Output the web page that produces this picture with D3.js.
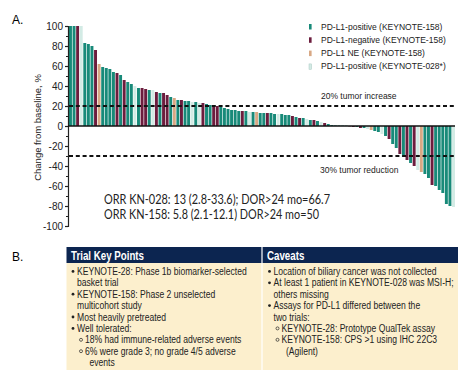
<html>
  <head>
    <meta charset="utf-8">
    <script src="https://cdn.jsdelivr.net/npm/d3@7"></script>
    <style>
      body { margin: 0; background: #fff; }
    </style>
  </head>
  <body>
    <script>
        // best percentage change from baseline, one entry per patient (sorted)
        var values = [100, 100, 100, 100, 83, 82, 80, 76, 62, 59, 58, 57, 54, 53, 51, 46, 44, 42, 40, 38,
                      38, 37, 36, 36, 34, 33, 33, 31, 29, 28, 26, 26, 25, 25, 24, 24, 23, 23, 22, 21,
                      21, 20, 19, 18, 17, 16, 16, 15, 15, 15, 14, 14, 14, 13, 13, 13, 13, 12, 12, 12,
                      11, 11, 10, 9, 8, 8, 7, 6, 6, 5, 4, 3, 2, 1, 0.6, 0.5, 0.4, 0.3, -0.4, -1,
                      -1, -2, -2, -3, -4, -5, -6, -8, -10, -13, -18, -22, -28, -31, -34, -37, -40, -44, -46, -48,
                      -52, -59, -60, -64, -67, -78, -80, -81];
        // cohort of each bar: P = PD-L1+ KN-158, N = PD-L1- KN-158, E = PD-L1 NE KN-158, K = PD-L1+ KN-028
        var cohorts = ["P", "P", "N", "K", "P", "P", "P", "N", "E", "P", "P", "P", "P", "N", "P", "N", "P", "P", "K", "P",
                       "N", "N", "P", "K", "N", "P", "N", "N", "P", "E", "P", "N", "P", "P", "K", "P", "K", "N", "P", "P",
                       "N", "N", "P", "P", "P", "P", "P", "P", "N", "P", "K", "P", "E", "P", "P", "N", "P", "P", "K", "P",
                       "P", "P", "N", "P", "N", "P", "K", "P", "N", "P", "K", "N", "P", "P", "P", "P", "P", "P", "N", "N",
                       "P", "N", "P", "K", "E", "P", "P", "K", "P", "N", "P", "P", "N", "P", "N", "P", "N", "K", "E", "P",
                       "P", "N", "P", "P", "P", "P", "P", "K"];
        var legendKeys = ["P", "N", "E", "K"];
        var legendLabels = ["PD-L1-positive (KEYNOTE-158)", "PD-L1-negative (KEYNOTE-158)",
                            "PD-L1 NE (KEYNOTE-158)", "PD-L1-positive (KEYNOTE-028*)"];
        var yTicks = [100, 80, 60, 40, 20, 0, -20, -40, -60, -80, -100];
        var refLines = [20, -30];
        var orrLines = ["ORR KN-028: 13 (2.8-33.6); DOR>24 mo=66.7",
                        "ORR KN-158: 5.8 (2.1-12.1) DOR>24 mo=50"];
        var leftPoints = [
            {t: "KEYNOTE-28: Phase 1b biomarker-selected", lvl: 1},
            {t: "basket trial", lvl: 0},
            {t: "KEYNOTE-158: Phase 2 unselected", lvl: 1},
            {t: "multicohort study", lvl: 0},
            {t: "Most heavily pretreated", lvl: 1},
            {t: "Well tolerated:", lvl: 1},
            {t: "18% had immune-related adverse events", lvl: 2},
            {t: "6% were grade 3; no grade 4/5 adverse", lvl: 2},
            {t: "events", lvl: 3}
        ];
        var rightPoints = [
            {t: "Location of biliary cancer was not collected", lvl: 1},
            {t: "At least 1 patient in KEYNOTE-028 was MSI-H;", lvl: 1},
            {t: "others missing", lvl: 0},
            {t: "Assays for PD-L1 differed between the", lvl: 1},
            {t: "two trials:", lvl: 0},
            {t: "KEYNOTE-28: Prototype QualTek assay", lvl: 2},
            {t: "KEYNOTE-158: CPS >1 using IHC 22C3", lvl: 2},
            {t: "(Agilent)", lvl: 3}
        ];

        var width = 474, height = 387;

        var color = d3.scaleOrdinal()
            .domain(legendKeys)
            .range(["#188a79", "#6c1d3e", "#d8a884", "#d3ebe5"]);

        var svg = d3.select("body").append("svg")
            .attr("width", width)
            .attr("height", height)
            .style("font-family", "'Liberation Sans', Arial, sans-serif");

        // panel A --------------------------------------------------------
        var x = d3.scaleBand()
            .domain(d3.range(values.length))
            .range([69, 455])
            .paddingInner(0.18);

        var y = d3.scaleLinear()
            .domain([-100, 100])
            .range([226, 26]);

        svg.append("text").attr("x", 12).attr("y", 24)
            .style("font-size", "12px").text("A.");

        svg.append("g")
            .selectAll("rect")
            .data(values)
            .enter().append("rect")
              .attr("x", function(d, i) { return x(i); })
              .attr("width", x.bandwidth())
              .attr("y", function(d) { return y(Math.max(0, d)); })
              .attr("height", function(d) { return Math.abs(y(d) - y(0)); })
              .style("fill", function(d, i) { return color(cohorts[i]); });

        // y axis with minor ticks
        var yAxis = svg.append("g")
            .attr("transform", "translate(68,0)")
            .call(d3.axisLeft(y).tickValues(yTicks).tickSize(3).tickPadding(2).tickFormat(d3.format("d")));
        yAxis.selectAll("text").style("font-size", "10px").style("fill", "#222")
            .text(function(d) { return String(d); });
        yAxis.select(".domain").attr("stroke", "#222").attr("stroke-width", 1.2);
        yAxis.selectAll(".tick line").attr("stroke", "#222").attr("stroke-width", 1.2);
        svg.append("g")
            .attr("transform", "translate(68,0)")
            .call(d3.axisLeft(y).tickValues(d3.range(-90, 100, 20)).tickSize(2).tickFormat(""))
            .call(function(g) { g.select(".domain").remove(); })
            .selectAll("line").attr("stroke", "#222");

        svg.append("text")
            .attr("transform", "translate(41," + y(-1.5) + ") rotate(-90)")
            .attr("text-anchor", "middle")
            .style("font-size", "9.5px")
            .style("fill", "#222")
            .text("Change from baseline, %");

        // zero line
        svg.append("line")
            .attr("x1", 68).attr("x2", 455)
            .attr("y1", y(0)).attr("y2", y(0))
            .attr("stroke", "#111").attr("stroke-width", 1.4);

        // reference lines
        svg.append("g").selectAll("line")
            .data(refLines)
            .enter().append("line")
              .attr("x1", 69).attr("x2", 455)
              .attr("y1", function(d) { return y(d); })
              .attr("y2", function(d) { return y(d); })
              .attr("stroke", "#111").attr("stroke-width", 1.8)
              .attr("stroke-dasharray", "4,2.8");

        svg.append("text").attr("x", 321).attr("y", y(20) - 7)
            .style("font-size", "8.5px").style("fill", "#222").text("20% tumor increase");
        svg.append("text").attr("x", 320).attr("y", y(-30) + 17)
            .style("font-size", "8.5px").style("fill", "#222").text("30% tumor reduction");

        // legend
        var legend = svg.append("g").selectAll("g")
            .data(legendKeys)
            .enter().append("g")
              .attr("transform", function(d, i) { return "translate(309," + (24 + i * 13.3) + ")"; });
        legend.append("rect")
            .attr("width", 2.6).attr("height", 5.5)
            .style("fill", function(d) { return color(d); })
            .style("stroke", function(d) { return d === "K" ? "#a9c8c1" : "none"; })
            .style("stroke-width", 0.5);
        legend.append("text")
            .attr("x", 12).attr("y", 5.5)
            .style("font-size", "8.5px").style("fill", "#222")
            .text(function(d, i) { return legendLabels[i]; });

        // ORR text
        svg.append("g").selectAll("text")
            .data(orrLines)
            .enter().append("text")
              .attr("x", 104)
              .attr("y", function(d, i) { return 204 + i * 14.5; })
              .attr("textLength", function(d, i) { return i === 0 ? 226 : 215; })
              .attr("lengthAdjust", "spacingAndGlyphs")
              .style("font-family", "Lato, 'Open Sans', sans-serif")
              .style("font-size", "12.5px")
              .style("fill", "#222")
              .text(function(d) { return d; });

        // panel B --------------------------------------------------------
        svg.append("text").attr("x", 12).attr("y", 261)
            .style("font-size", "12px").text("B.");

        var tx0 = 66.5, tx1 = 458, tmid = 262, ty0 = 247, thead = 16, ty1 = 370;
        svg.append("rect").attr("x", tx0).attr("y", ty0 + thead)
            .attr("width", tx1 - tx0).attr("height", ty1 - ty0 - thead)
            .style("fill", "#fcefcd");
        svg.append("rect").attr("x", tx0).attr("y", ty0)
            .attr("width", tx1 - tx0).attr("height", thead)
            .style("fill", "#0c2550");
        svg.append("line").attr("x1", tmid).attr("x2", tmid)
            .attr("y1", ty0).attr("y2", ty1)
            .attr("stroke", "#fff").attr("stroke-width", 1.2);

        // narrow look: Liberation Sans squeezed horizontally
        var squeeze = 0.78;
        svg.append("text")
            .attr("transform", "translate(71," + (ty0 + 12.5) + ") scale(" + squeeze + ",1)")
            .style("font-weight", "bold")
            .style("font-size", "12.5px").style("fill", "#fff").text("Trial Key Points");
        svg.append("text")
            .attr("transform", "translate(267," + (ty0 + 12.5) + ") scale(" + squeeze + ",1)")
            .style("font-weight", "bold")
            .style("font-size", "12.5px").style("fill", "#fff").text("Caveats");

        function column(points, bx) {
            var offsets = {0: bx + 5.5, 1: bx + 5.5, 2: bx + 13.5, 3: bx + 18};
            var g = svg.append("g").selectAll("g")
                .data(points)
                .enter().append("g")
                  .attr("transform", function(d, i) { return "translate(0," + (275 + i * 11.4) + ")"; });
            g.filter(function(d) { return d.lvl === 1; })
                .append("circle").attr("cx", bx + 1.5).attr("cy", -3.6).attr("r", 1.4)
                .style("fill", "#222");
            g.filter(function(d) { return d.lvl === 2; })
                .append("circle").attr("cx", bx + 9.5).attr("cy", -3.6).attr("r", 1.5)
                .style("fill", "none").style("stroke", "#222").style("stroke-width", 0.7);
            g.append("text")
                .attr("transform", function(d) { return "translate(" + offsets[d.lvl] + ",0) scale(" + squeeze + ",1)"; })
                .style("font-size", "11px")
                .style("fill", "#222")
                .text(function(d) { return d.t; });
        }
        column(leftPoints, 71.5);
        column(rightPoints, 268);
    </script>
  </body>
</html>
